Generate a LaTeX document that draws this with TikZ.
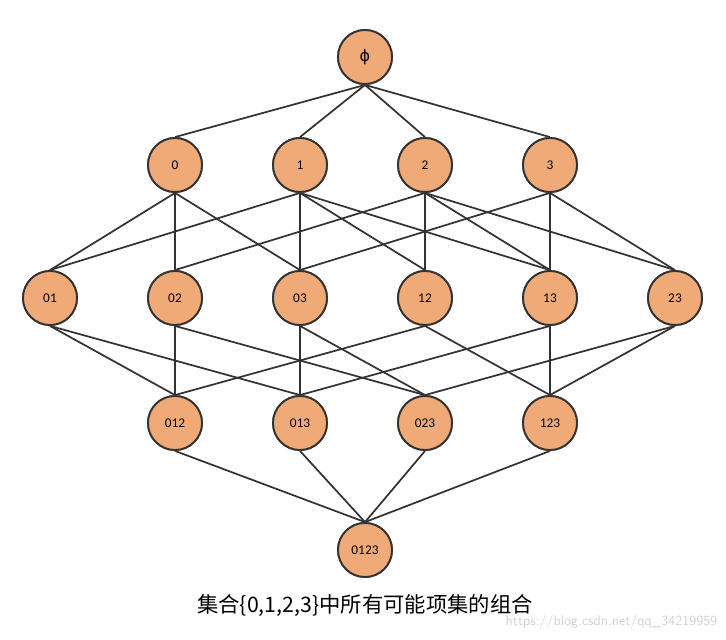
\documentclass[tikz,border=0pt]{standalone}
\usepackage{fontspec}
\setmainfont{Carlito}
\newfontfamily\cjk{Noto Sans CJK SC}
\newfontfamily\dejavu{DejaVu Sans}
\begin{document}
\begin{tikzpicture}[x=0.75pt,y=-0.75pt,
  nd/.style={circle,draw=black!80,line width=1.4pt,fill={rgb,255:red,240;green,170;blue,120},minimum size=40.5pt,inner sep=0pt,font=\fontsize{10}{11}\selectfont},
  ed/.style={draw=black!80,line width=1.3pt}]
\useasboundingbox (0,0) rectangle (726,640);
\node[nd] (e) at (365,57) {\dejavu\fontsize{12}{13}\selectfont ϕ};
\foreach \n/\x in {0/175,1/300,2/425,3/550} \node[nd] (n\n) at (\x,165) {\n};
\foreach \n/\x in {01/50,02/175,03/300,12/425,13/550,23/675} \node[nd] (n\n) at (\x,298) {\n};
\foreach \n/\x in {012/175,013/300,023/425,123/550} \node[nd] (n\n) at (\x,423) {\n};
\node[nd] (n0123) at (365,550) {0123};
\foreach \a/\b in {e/n0,e/n1,e/n2,e/n3,
 n0/n01,n0/n02,n0/n03,n1/n01,n1/n03,n1/n12,n1/n13,n2/n02,n2/n12,n2/n13,n2/n23,n3/n03,n3/n13,n3/n23,
 n01/n012,n01/n013,n02/n012,n02/n023,n03/n013,n03/n023,n12/n012,n12/n123,n13/n013,n13/n123,n23/n023,n23/n123,
 n012/n0123,n013/n0123,n023/n0123,n123/n0123}
 \draw[ed] (\a.south) -- (\b.north);
\foreach \n in {e,n0,n1,n2,n3,n01,n02,n03,n12,n13,n23,n012,n013,n023,n123,n0123}
 \node[nd] at (\n) {};
\node at (e) {\dejavu\fontsize{12}{13}\selectfont ϕ};
\foreach \n in {0,1,2,3,01,02,03,12,13,23,012,013,023,123,0123}
 \node[font=\fontsize{10}{11}\selectfont] at (n\n) {\n};
\node (cap) at (365,606) {\cjk\fontsize{16}{18}\selectfont 集合\{0,1,2,3\}中所有可能项集的组合};
\node[text=black!18,font=\sffamily\fontsize{10.5}{12}\selectfont,anchor=east] (wm) at (722,622) {https://blog.csdn.net/qq\_34219959};
\end{tikzpicture}
\end{document}
